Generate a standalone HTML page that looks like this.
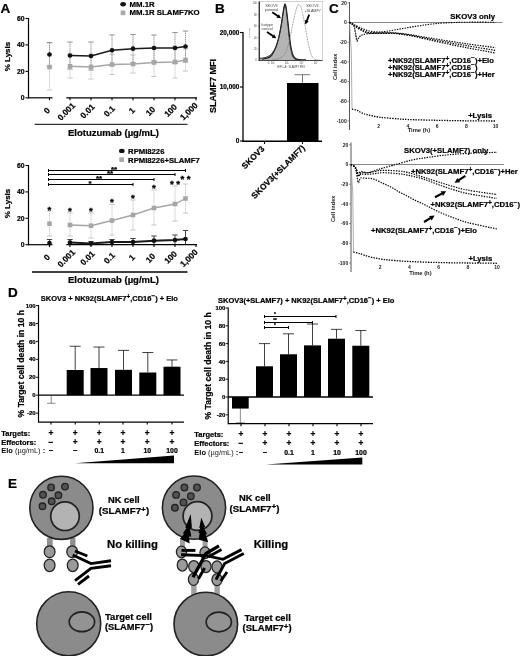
<!DOCTYPE html>
<html><head><meta charset="utf-8"><title>Figure</title>
<style>
html,body{margin:0;padding:0;background:#fff;}
svg{display:block;font-family:"Liberation Sans",sans-serif;}
</style></head>
<body>
<svg width="520" height="656" viewBox="0 0 520 656">
<rect x="0" y="0" width="520" height="656" fill="#fff"/>
<text x="0.5" y="13.3" font-size="13.5" font-weight="bold" text-anchor="start" fill="#000" stroke="#000" stroke-width="0.22">A</text>
<line x1="49.5" y1="43" x2="49.5" y2="90" stroke="#c8c8c8" stroke-width="0.9" stroke-dasharray="1.5,0.5"/>
<line x1="46.8" y1="43" x2="52.2" y2="43" stroke="#c8c8c8" stroke-width="1.0"/>
<line x1="46.8" y1="90" x2="52.2" y2="90" stroke="#c8c8c8" stroke-width="1.0"/>
<line x1="70" y1="54" x2="70" y2="78" stroke="#c8c8c8" stroke-width="0.9" stroke-dasharray="1.5,0.5"/>
<line x1="67.3" y1="54" x2="72.7" y2="54" stroke="#c8c8c8" stroke-width="1.0"/>
<line x1="67.3" y1="78" x2="72.7" y2="78" stroke="#c8c8c8" stroke-width="1.0"/>
<line x1="91" y1="54" x2="91" y2="79" stroke="#c8c8c8" stroke-width="0.9" stroke-dasharray="1.5,0.5"/>
<line x1="88.3" y1="54" x2="93.7" y2="54" stroke="#c8c8c8" stroke-width="1.0"/>
<line x1="88.3" y1="79" x2="93.7" y2="79" stroke="#c8c8c8" stroke-width="1.0"/>
<line x1="112" y1="54.5" x2="112" y2="74.5" stroke="#c8c8c8" stroke-width="0.9" stroke-dasharray="1.5,0.5"/>
<line x1="109.3" y1="54.5" x2="114.7" y2="54.5" stroke="#c8c8c8" stroke-width="1.0"/>
<line x1="109.3" y1="74.5" x2="114.7" y2="74.5" stroke="#c8c8c8" stroke-width="1.0"/>
<line x1="133" y1="55" x2="133" y2="73" stroke="#c8c8c8" stroke-width="0.9" stroke-dasharray="1.5,0.5"/>
<line x1="130.3" y1="55" x2="135.7" y2="55" stroke="#c8c8c8" stroke-width="1.0"/>
<line x1="130.3" y1="73" x2="135.7" y2="73" stroke="#c8c8c8" stroke-width="1.0"/>
<line x1="154" y1="48.5" x2="154" y2="76.5" stroke="#c8c8c8" stroke-width="0.9" stroke-dasharray="1.5,0.5"/>
<line x1="151.3" y1="48.5" x2="156.7" y2="48.5" stroke="#c8c8c8" stroke-width="1.0"/>
<line x1="151.3" y1="76.5" x2="156.7" y2="76.5" stroke="#c8c8c8" stroke-width="1.0"/>
<line x1="175" y1="46" x2="175" y2="78" stroke="#c8c8c8" stroke-width="0.9" stroke-dasharray="1.5,0.5"/>
<line x1="172.3" y1="46" x2="177.7" y2="46" stroke="#c8c8c8" stroke-width="1.0"/>
<line x1="172.3" y1="78" x2="177.7" y2="78" stroke="#c8c8c8" stroke-width="1.0"/>
<line x1="185.5" y1="49" x2="185.5" y2="71" stroke="#c8c8c8" stroke-width="0.9" stroke-dasharray="1.5,0.5"/>
<line x1="182.8" y1="49" x2="188.2" y2="49" stroke="#c8c8c8" stroke-width="1.0"/>
<line x1="182.8" y1="71" x2="188.2" y2="71" stroke="#c8c8c8" stroke-width="1.0"/>
<line x1="49.5" y1="42.5" x2="49.5" y2="66.5" stroke="#949494" stroke-width="0.9" stroke-dasharray="1.5,0.5"/>
<line x1="46.8" y1="42.5" x2="52.2" y2="42.5" stroke="#949494" stroke-width="1.0"/>
<line x1="46.8" y1="66.5" x2="52.2" y2="66.5" stroke="#949494" stroke-width="1.0"/>
<line x1="70" y1="42" x2="70" y2="69.0" stroke="#949494" stroke-width="0.9" stroke-dasharray="1.5,0.5"/>
<line x1="67.3" y1="42" x2="72.7" y2="42" stroke="#949494" stroke-width="1.0"/>
<line x1="67.3" y1="69.0" x2="72.7" y2="69.0" stroke="#949494" stroke-width="1.0"/>
<line x1="91" y1="42" x2="91" y2="70" stroke="#949494" stroke-width="0.9" stroke-dasharray="1.5,0.5"/>
<line x1="88.3" y1="42" x2="93.7" y2="42" stroke="#949494" stroke-width="1.0"/>
<line x1="88.3" y1="70" x2="93.7" y2="70" stroke="#949494" stroke-width="1.0"/>
<line x1="112" y1="35" x2="112" y2="65.6" stroke="#949494" stroke-width="0.9" stroke-dasharray="1.5,0.5"/>
<line x1="109.3" y1="35" x2="114.7" y2="35" stroke="#949494" stroke-width="1.0"/>
<line x1="109.3" y1="65.6" x2="114.7" y2="65.6" stroke="#949494" stroke-width="1.0"/>
<line x1="133" y1="34.5" x2="133" y2="62.900000000000006" stroke="#949494" stroke-width="0.9" stroke-dasharray="1.5,0.5"/>
<line x1="130.3" y1="34.5" x2="135.7" y2="34.5" stroke="#949494" stroke-width="1.0"/>
<line x1="130.3" y1="62.900000000000006" x2="135.7" y2="62.900000000000006" stroke="#949494" stroke-width="1.0"/>
<line x1="154" y1="35" x2="154" y2="61" stroke="#949494" stroke-width="0.9" stroke-dasharray="1.5,0.5"/>
<line x1="151.3" y1="35" x2="156.7" y2="35" stroke="#949494" stroke-width="1.0"/>
<line x1="151.3" y1="61" x2="156.7" y2="61" stroke="#949494" stroke-width="1.0"/>
<line x1="175" y1="32.5" x2="175" y2="63.5" stroke="#949494" stroke-width="0.9" stroke-dasharray="1.5,0.5"/>
<line x1="172.3" y1="32.5" x2="177.7" y2="32.5" stroke="#949494" stroke-width="1.0"/>
<line x1="172.3" y1="63.5" x2="177.7" y2="63.5" stroke="#949494" stroke-width="1.0"/>
<line x1="185.5" y1="31" x2="185.5" y2="62.0" stroke="#949494" stroke-width="0.9" stroke-dasharray="1.5,0.5"/>
<line x1="182.8" y1="31" x2="188.2" y2="31" stroke="#949494" stroke-width="1.0"/>
<line x1="182.8" y1="62.0" x2="188.2" y2="62.0" stroke="#949494" stroke-width="1.0"/>
<line x1="28.5" y1="18.0" x2="28.5" y2="98.39999999999999" stroke="#000" stroke-width="1.2"/>
<line x1="28" y1="97.8" x2="52.5" y2="97.8" stroke="#000" stroke-width="1.2"/>
<line x1="66.3" y1="97.8" x2="197" y2="97.8" stroke="#000" stroke-width="1.2"/>
<line x1="25.5" y1="97.8" x2="28.5" y2="97.8" stroke="#000" stroke-width="1.1"/>
<text x="24.5" y="100.2" font-size="6.8" font-weight="bold" text-anchor="end" fill="#000" stroke="#000" stroke-width="0.22">0</text>
<line x1="25.5" y1="71.36666666666666" x2="28.5" y2="71.36666666666666" stroke="#000" stroke-width="1.1"/>
<text x="24.5" y="73.76666666666667" font-size="6.8" font-weight="bold" text-anchor="end" fill="#000" stroke="#000" stroke-width="0.22">20</text>
<line x1="25.5" y1="44.93333333333333" x2="28.5" y2="44.93333333333333" stroke="#000" stroke-width="1.1"/>
<text x="24.5" y="47.33333333333333" font-size="6.8" font-weight="bold" text-anchor="end" fill="#000" stroke="#000" stroke-width="0.22">40</text>
<line x1="25.5" y1="18.5" x2="28.5" y2="18.5" stroke="#000" stroke-width="1.1"/>
<text x="24.5" y="20.9" font-size="6.8" font-weight="bold" text-anchor="end" fill="#000" stroke="#000" stroke-width="0.22">60</text>
<line x1="49.5" y1="97.8" x2="49.5" y2="100.2" stroke="#000" stroke-width="1.1"/>
<line x1="70" y1="97.8" x2="70" y2="100.2" stroke="#000" stroke-width="1.1"/>
<line x1="91" y1="97.8" x2="91" y2="100.2" stroke="#000" stroke-width="1.1"/>
<line x1="112" y1="97.8" x2="112" y2="100.2" stroke="#000" stroke-width="1.1"/>
<line x1="133" y1="97.8" x2="133" y2="100.2" stroke="#000" stroke-width="1.1"/>
<line x1="154" y1="97.8" x2="154" y2="100.2" stroke="#000" stroke-width="1.1"/>
<line x1="175" y1="97.8" x2="175" y2="100.2" stroke="#000" stroke-width="1.1"/>
<line x1="196" y1="97.8" x2="196" y2="100.2" stroke="#000" stroke-width="1.1"/>
<text x="9.7" y="56.55" font-size="8.0" font-weight="bold" text-anchor="middle" fill="#000" transform="rotate(-90 9.7 56.55)" stroke="#000" stroke-width="0.22">% Lysis</text>
<path d="M70.0,66.2 L91.0,67.0 L112.0,64.5 L133.0,64.0 L154.0,62.5 L175.0,62.0 L185.5,60.0" stroke="#a6a6a6" stroke-width="1.4" fill="none"/>
<path d="M70.0,55.5 L91.0,56.0 L112.0,50.3 L133.0,48.7 L154.0,48.0 L175.0,48.0 L185.5,46.5" stroke="#1a1a1a" stroke-width="1.6" fill="none"/>
<rect x="47.2" y="64.7" width="4.6" height="4.6" fill="#a6a6a6" stroke="none" stroke-width="1"/>
<rect x="67.7" y="63.900000000000006" width="4.6" height="4.6" fill="#a6a6a6" stroke="none" stroke-width="1"/>
<rect x="88.7" y="64.7" width="4.6" height="4.6" fill="#a6a6a6" stroke="none" stroke-width="1"/>
<rect x="109.7" y="62.2" width="4.6" height="4.6" fill="#a6a6a6" stroke="none" stroke-width="1"/>
<rect x="130.7" y="61.7" width="4.6" height="4.6" fill="#a6a6a6" stroke="none" stroke-width="1"/>
<rect x="151.7" y="60.2" width="4.6" height="4.6" fill="#a6a6a6" stroke="none" stroke-width="1"/>
<rect x="172.7" y="59.7" width="4.6" height="4.6" fill="#a6a6a6" stroke="none" stroke-width="1"/>
<rect x="183.2" y="57.7" width="4.6" height="4.6" fill="#a6a6a6" stroke="none" stroke-width="1"/>
<circle cx="49.5" cy="54.5" r="2.35" fill="#111" stroke="none" stroke-width="1"/>
<circle cx="70" cy="55.5" r="2.35" fill="#111" stroke="none" stroke-width="1"/>
<circle cx="91" cy="56" r="2.35" fill="#111" stroke="none" stroke-width="1"/>
<circle cx="112" cy="50.3" r="2.35" fill="#111" stroke="none" stroke-width="1"/>
<circle cx="133" cy="48.7" r="2.35" fill="#111" stroke="none" stroke-width="1"/>
<circle cx="154" cy="48" r="2.35" fill="#111" stroke="none" stroke-width="1"/>
<circle cx="175" cy="48" r="2.35" fill="#111" stroke="none" stroke-width="1"/>
<circle cx="185.5" cy="46.5" r="2.35" fill="#111" stroke="none" stroke-width="1"/>
<text x="49.0" y="112.5" font-size="8.4" font-weight="bold" text-anchor="middle" fill="#000" transform="rotate(-45 49.0 112.5)" stroke="#000" stroke-width="0.22">0</text>
<text x="68.3" y="113.5" font-size="8.4" font-weight="bold" text-anchor="middle" fill="#000" transform="rotate(-45 68.3 113.5)" stroke="#000" stroke-width="0.22">0.001</text>
<text x="89.6" y="113.2" font-size="8.4" font-weight="bold" text-anchor="middle" fill="#000" transform="rotate(-45 89.6 113.2)" stroke="#000" stroke-width="0.22">0.01</text>
<text x="111.4" y="113.2" font-size="8.4" font-weight="bold" text-anchor="middle" fill="#000" transform="rotate(-45 111.4 113.2)" stroke="#000" stroke-width="0.22">0.1</text>
<text x="133.9" y="112.7" font-size="8.4" font-weight="bold" text-anchor="middle" fill="#000" transform="rotate(-45 133.9 112.7)" stroke="#000" stroke-width="0.22">1</text>
<text x="152.5" y="113.2" font-size="8.4" font-weight="bold" text-anchor="middle" fill="#000" transform="rotate(-45 152.5 113.2)" stroke="#000" stroke-width="0.22">10</text>
<text x="172.7" y="112.5" font-size="8.4" font-weight="bold" text-anchor="middle" fill="#000" transform="rotate(-45 172.7 112.5)" stroke="#000" stroke-width="0.22">100</text>
<text x="190.9" y="113.3" font-size="8.4" font-weight="bold" text-anchor="middle" fill="#000" transform="rotate(-45 190.9 113.3)" stroke="#000" stroke-width="0.22">1,000</text>
<line x1="34.6" y1="124.3" x2="187.5" y2="124.3" stroke="#000" stroke-width="1.0"/>
<text x="113.5" y="135.5" font-size="9.5" font-weight="bold" text-anchor="middle" fill="#000" stroke="#000" stroke-width="0.22">Elotuzumab (µg/mL)</text>
<ellipse cx="123.1" cy="4.2" rx="2.8" ry="2.2" fill="#111" stroke="none" stroke-width="1"/>
<rect x="120.7" y="10.5" width="4.7" height="4.7" fill="#ababab" stroke="none" stroke-width="1"/>
<text x="129.5" y="6.7" font-size="7.8" font-weight="bold" text-anchor="start" fill="#000" stroke="#000" stroke-width="0.22">MM.1R</text>
<text x="129.5" y="15.2" font-size="7.8" font-weight="bold" text-anchor="start" fill="#000" stroke="#000" stroke-width="0.22">MM.1R SLAMF7KO</text>
<line x1="49.5" y1="211" x2="49.5" y2="236" stroke="#c8c8c8" stroke-width="0.9" stroke-dasharray="1.5,0.5"/>
<line x1="46.8" y1="211" x2="52.2" y2="211" stroke="#c8c8c8" stroke-width="1.0"/>
<line x1="46.8" y1="236" x2="52.2" y2="236" stroke="#c8c8c8" stroke-width="1.0"/>
<line x1="70" y1="213" x2="70" y2="236" stroke="#c8c8c8" stroke-width="0.9" stroke-dasharray="1.5,0.5"/>
<line x1="67.3" y1="213" x2="72.7" y2="213" stroke="#c8c8c8" stroke-width="1.0"/>
<line x1="67.3" y1="236" x2="72.7" y2="236" stroke="#c8c8c8" stroke-width="1.0"/>
<line x1="91" y1="213" x2="91" y2="238" stroke="#c8c8c8" stroke-width="0.9" stroke-dasharray="1.5,0.5"/>
<line x1="88.3" y1="213" x2="93.7" y2="213" stroke="#c8c8c8" stroke-width="1.0"/>
<line x1="88.3" y1="238" x2="93.7" y2="238" stroke="#c8c8c8" stroke-width="1.0"/>
<line x1="112" y1="204.5" x2="112" y2="235" stroke="#c8c8c8" stroke-width="0.9" stroke-dasharray="1.5,0.5"/>
<line x1="109.3" y1="204.5" x2="114.7" y2="204.5" stroke="#c8c8c8" stroke-width="1.0"/>
<line x1="109.3" y1="235" x2="114.7" y2="235" stroke="#c8c8c8" stroke-width="1.0"/>
<line x1="133" y1="200" x2="133" y2="230" stroke="#c8c8c8" stroke-width="0.9" stroke-dasharray="1.5,0.5"/>
<line x1="130.3" y1="200" x2="135.7" y2="200" stroke="#c8c8c8" stroke-width="1.0"/>
<line x1="130.3" y1="230" x2="135.7" y2="230" stroke="#c8c8c8" stroke-width="1.0"/>
<line x1="154" y1="190" x2="154" y2="225" stroke="#c8c8c8" stroke-width="0.9" stroke-dasharray="1.5,0.5"/>
<line x1="151.3" y1="190" x2="156.7" y2="190" stroke="#c8c8c8" stroke-width="1.0"/>
<line x1="151.3" y1="225" x2="156.7" y2="225" stroke="#c8c8c8" stroke-width="1.0"/>
<line x1="175" y1="186" x2="175" y2="221" stroke="#c8c8c8" stroke-width="0.9" stroke-dasharray="1.5,0.5"/>
<line x1="172.3" y1="186" x2="177.7" y2="186" stroke="#c8c8c8" stroke-width="1.0"/>
<line x1="172.3" y1="221" x2="177.7" y2="221" stroke="#c8c8c8" stroke-width="1.0"/>
<line x1="185.5" y1="184" x2="185.5" y2="213" stroke="#c8c8c8" stroke-width="0.9" stroke-dasharray="1.5,0.5"/>
<line x1="182.8" y1="184" x2="188.2" y2="184" stroke="#c8c8c8" stroke-width="1.0"/>
<line x1="182.8" y1="213" x2="188.2" y2="213" stroke="#c8c8c8" stroke-width="1.0"/>
<line x1="49.5" y1="239.5" x2="49.5" y2="244.7" stroke="#333" stroke-width="0.9"/>
<line x1="46.8" y1="239.5" x2="52.2" y2="239.5" stroke="#333" stroke-width="0.9"/>
<line x1="70" y1="239.5" x2="70" y2="244.7" stroke="#333" stroke-width="0.9"/>
<line x1="67.3" y1="239.5" x2="72.7" y2="239.5" stroke="#333" stroke-width="0.9"/>
<line x1="91" y1="241.5" x2="91" y2="244.7" stroke="#333" stroke-width="0.9"/>
<line x1="88.3" y1="241.5" x2="93.7" y2="241.5" stroke="#333" stroke-width="0.9"/>
<line x1="112" y1="239.5" x2="112" y2="244.5" stroke="#333" stroke-width="0.9"/>
<line x1="109.3" y1="239.5" x2="114.7" y2="239.5" stroke="#333" stroke-width="0.9"/>
<line x1="109.3" y1="244.5" x2="114.7" y2="244.5" stroke="#333" stroke-width="0.9"/>
<line x1="133" y1="238.5" x2="133" y2="244.7" stroke="#333" stroke-width="0.9"/>
<line x1="130.3" y1="238.5" x2="135.7" y2="238.5" stroke="#333" stroke-width="0.9"/>
<line x1="154" y1="236" x2="154" y2="244.7" stroke="#333" stroke-width="0.9"/>
<line x1="151.3" y1="236" x2="156.7" y2="236" stroke="#333" stroke-width="0.9"/>
<line x1="175" y1="235" x2="175" y2="244.7" stroke="#333" stroke-width="0.9"/>
<line x1="172.3" y1="235" x2="177.7" y2="235" stroke="#333" stroke-width="0.9"/>
<line x1="185.5" y1="230.5" x2="185.5" y2="244.7" stroke="#333" stroke-width="0.9"/>
<line x1="182.8" y1="230.5" x2="188.2" y2="230.5" stroke="#333" stroke-width="0.9"/>
<line x1="28.5" y1="165.0" x2="28.5" y2="245.29999999999998" stroke="#000" stroke-width="1.2"/>
<line x1="28" y1="244.7" x2="52.5" y2="244.7" stroke="#000" stroke-width="1.2"/>
<line x1="66.3" y1="244.7" x2="197" y2="244.7" stroke="#000" stroke-width="1.2"/>
<line x1="25.5" y1="244.7" x2="28.5" y2="244.7" stroke="#000" stroke-width="1.1"/>
<text x="24.5" y="247.1" font-size="6.8" font-weight="bold" text-anchor="end" fill="#000" stroke="#000" stroke-width="0.22">0</text>
<line x1="25.5" y1="218.29999999999998" x2="28.5" y2="218.29999999999998" stroke="#000" stroke-width="1.1"/>
<text x="24.5" y="220.7" font-size="6.8" font-weight="bold" text-anchor="end" fill="#000" stroke="#000" stroke-width="0.22">20</text>
<line x1="25.5" y1="191.9" x2="28.5" y2="191.9" stroke="#000" stroke-width="1.1"/>
<text x="24.5" y="194.3" font-size="6.8" font-weight="bold" text-anchor="end" fill="#000" stroke="#000" stroke-width="0.22">40</text>
<line x1="25.5" y1="165.5" x2="28.5" y2="165.5" stroke="#000" stroke-width="1.1"/>
<text x="24.5" y="167.9" font-size="6.8" font-weight="bold" text-anchor="end" fill="#000" stroke="#000" stroke-width="0.22">60</text>
<line x1="49.5" y1="244.7" x2="49.5" y2="247.1" stroke="#000" stroke-width="1.1"/>
<line x1="70" y1="244.7" x2="70" y2="247.1" stroke="#000" stroke-width="1.1"/>
<line x1="91" y1="244.7" x2="91" y2="247.1" stroke="#000" stroke-width="1.1"/>
<line x1="112" y1="244.7" x2="112" y2="247.1" stroke="#000" stroke-width="1.1"/>
<line x1="133" y1="244.7" x2="133" y2="247.1" stroke="#000" stroke-width="1.1"/>
<line x1="154" y1="244.7" x2="154" y2="247.1" stroke="#000" stroke-width="1.1"/>
<line x1="175" y1="244.7" x2="175" y2="247.1" stroke="#000" stroke-width="1.1"/>
<line x1="196" y1="244.7" x2="196" y2="247.1" stroke="#000" stroke-width="1.1"/>
<text x="9.7" y="203.5" font-size="8.0" font-weight="bold" text-anchor="middle" fill="#000" transform="rotate(-90 9.7 203.5)" stroke="#000" stroke-width="0.22">% Lysis</text>
<path d="M70.0,225.0 L91.0,225.7 L112.0,220.5 L133.0,215.0 L154.0,208.0 L175.0,204.0 L185.5,198.5" stroke="#a6a6a6" stroke-width="1.4" fill="none"/>
<path d="M70.0,242.5 L91.0,243.5 L112.0,242.0 L133.0,242.0 L154.0,240.7 L175.0,240.0 L185.5,239.0" stroke="#1a1a1a" stroke-width="1.9" fill="none"/>
<rect x="47.2" y="221.39999999999998" width="4.6" height="4.6" fill="#a6a6a6" stroke="none" stroke-width="1"/>
<rect x="67.7" y="222.7" width="4.6" height="4.6" fill="#a6a6a6" stroke="none" stroke-width="1"/>
<rect x="88.7" y="223.39999999999998" width="4.6" height="4.6" fill="#a6a6a6" stroke="none" stroke-width="1"/>
<rect x="109.7" y="218.2" width="4.6" height="4.6" fill="#a6a6a6" stroke="none" stroke-width="1"/>
<rect x="130.7" y="212.7" width="4.6" height="4.6" fill="#a6a6a6" stroke="none" stroke-width="1"/>
<rect x="151.7" y="205.7" width="4.6" height="4.6" fill="#a6a6a6" stroke="none" stroke-width="1"/>
<rect x="172.7" y="201.7" width="4.6" height="4.6" fill="#a6a6a6" stroke="none" stroke-width="1"/>
<rect x="183.2" y="196.2" width="4.6" height="4.6" fill="#a6a6a6" stroke="none" stroke-width="1"/>
<circle cx="49.5" cy="243" r="2.35" fill="#111" stroke="none" stroke-width="1"/>
<circle cx="70" cy="242.5" r="2.35" fill="#111" stroke="none" stroke-width="1"/>
<circle cx="91" cy="243.5" r="2.35" fill="#111" stroke="none" stroke-width="1"/>
<circle cx="112" cy="242" r="2.35" fill="#111" stroke="none" stroke-width="1"/>
<circle cx="133" cy="242" r="2.35" fill="#111" stroke="none" stroke-width="1"/>
<circle cx="154" cy="240.7" r="2.35" fill="#111" stroke="none" stroke-width="1"/>
<circle cx="175" cy="240" r="2.35" fill="#111" stroke="none" stroke-width="1"/>
<circle cx="185.5" cy="239" r="2.35" fill="#111" stroke="none" stroke-width="1"/>
<text x="49.0" y="259.4" font-size="8.4" font-weight="bold" text-anchor="middle" fill="#000" transform="rotate(-45 49.0 259.4)" stroke="#000" stroke-width="0.22">0</text>
<text x="68.3" y="260.4" font-size="8.4" font-weight="bold" text-anchor="middle" fill="#000" transform="rotate(-45 68.3 260.4)" stroke="#000" stroke-width="0.22">0.001</text>
<text x="89.6" y="260.1" font-size="8.4" font-weight="bold" text-anchor="middle" fill="#000" transform="rotate(-45 89.6 260.1)" stroke="#000" stroke-width="0.22">0.01</text>
<text x="111.4" y="260.1" font-size="8.4" font-weight="bold" text-anchor="middle" fill="#000" transform="rotate(-45 111.4 260.1)" stroke="#000" stroke-width="0.22">0.1</text>
<text x="133.9" y="259.6" font-size="8.4" font-weight="bold" text-anchor="middle" fill="#000" transform="rotate(-45 133.9 259.6)" stroke="#000" stroke-width="0.22">1</text>
<text x="152.5" y="260.1" font-size="8.4" font-weight="bold" text-anchor="middle" fill="#000" transform="rotate(-45 152.5 260.1)" stroke="#000" stroke-width="0.22">10</text>
<text x="172.7" y="259.4" font-size="8.4" font-weight="bold" text-anchor="middle" fill="#000" transform="rotate(-45 172.7 259.4)" stroke="#000" stroke-width="0.22">100</text>
<text x="190.9" y="260.2" font-size="8.4" font-weight="bold" text-anchor="middle" fill="#000" transform="rotate(-45 190.9 260.2)" stroke="#000" stroke-width="0.22">1,000</text>
<line x1="32" y1="272.0" x2="187.5" y2="272.0" stroke="#000" stroke-width="1.3"/>
<text x="113.5" y="283" font-size="9.5" font-weight="bold" text-anchor="middle" fill="#000" stroke="#000" stroke-width="0.22">Elotuzumab (µg/mL)</text>
<ellipse cx="121.8" cy="150.9" rx="2.8" ry="2.2" fill="#111" stroke="none" stroke-width="1"/>
<rect x="119.3" y="157.3" width="4.7" height="4.7" fill="#ababab" stroke="none" stroke-width="1"/>
<text x="128.1" y="154.2" font-size="7.7" font-weight="bold" text-anchor="start" fill="#000" stroke="#000" stroke-width="0.22">RPMI8226</text>
<text x="128.1" y="162.7" font-size="7.7" font-weight="bold" text-anchor="start" fill="#000" stroke="#000" stroke-width="0.22">RPMI8226+SLAMF7</text>
<text x="49.5" y="212.5" font-size="9.7" font-weight="bold" text-anchor="middle" fill="#000" stroke="#000" stroke-width="0.3">*</text>
<text x="70" y="213.5" font-size="9.7" font-weight="bold" text-anchor="middle" fill="#000" stroke="#000" stroke-width="0.3">*</text>
<text x="91" y="213.5" font-size="9.7" font-weight="bold" text-anchor="middle" fill="#000" stroke="#000" stroke-width="0.3">*</text>
<text x="112" y="205.0" font-size="9.7" font-weight="bold" text-anchor="middle" fill="#000" stroke="#000" stroke-width="0.3">*</text>
<text x="133" y="200.5" font-size="9.7" font-weight="bold" text-anchor="middle" fill="#000" stroke="#000" stroke-width="0.3">*</text>
<text x="154" y="190.5" font-size="9.7" font-weight="bold" text-anchor="middle" fill="#000" stroke="#000" stroke-width="0.3">*</text>
<text x="175" y="187.1" font-size="9.7" font-weight="bold" text-anchor="middle" fill="#000" stroke="#000" stroke-width="0.3">* *</text>
<text x="185.5" y="182.1" font-size="9.7" font-weight="bold" text-anchor="middle" fill="#000" stroke="#000" stroke-width="0.3">* *</text>
<line x1="48.5" y1="170.5" x2="185.5" y2="170.5" stroke="#000" stroke-width="1.0"/>
<line x1="48.5" y1="169.0" x2="48.5" y2="172.0" stroke="#000" stroke-width="1.0"/>
<line x1="185.5" y1="169.0" x2="185.5" y2="172.0" stroke="#000" stroke-width="1.0"/>
<text x="114" y="172.1" font-size="8" font-weight="bold" text-anchor="middle" fill="#000" stroke="#000" stroke-width="0.22">**</text>
<line x1="48.5" y1="174.5" x2="175" y2="174.5" stroke="#000" stroke-width="1.0"/>
<line x1="48.5" y1="173.0" x2="48.5" y2="176.0" stroke="#000" stroke-width="1.0"/>
<line x1="175" y1="173.0" x2="175" y2="176.0" stroke="#000" stroke-width="1.0"/>
<text x="110" y="176.1" font-size="8" font-weight="bold" text-anchor="middle" fill="#000" stroke="#000" stroke-width="0.22">**</text>
<line x1="48.5" y1="179.5" x2="154" y2="179.5" stroke="#000" stroke-width="1.0"/>
<line x1="48.5" y1="178.0" x2="48.5" y2="181.0" stroke="#000" stroke-width="1.0"/>
<line x1="154" y1="178.0" x2="154" y2="181.0" stroke="#000" stroke-width="1.0"/>
<text x="99" y="181.1" font-size="8" font-weight="bold" text-anchor="middle" fill="#000" stroke="#000" stroke-width="0.22">**</text>
<line x1="48.5" y1="184.5" x2="133" y2="184.5" stroke="#000" stroke-width="1.0"/>
<line x1="48.5" y1="183.0" x2="48.5" y2="186.0" stroke="#000" stroke-width="1.0"/>
<line x1="133" y1="183.0" x2="133" y2="186.0" stroke="#000" stroke-width="1.0"/>
<text x="90" y="186.1" font-size="8" font-weight="bold" text-anchor="middle" fill="#000" stroke="#000" stroke-width="0.22">*</text>
<text x="215" y="12.8" font-size="13.5" font-weight="bold" text-anchor="start" fill="#000" stroke="#000" stroke-width="0.22">B</text>
<line x1="243" y1="32" x2="243" y2="141.9" stroke="#000" stroke-width="1.3"/>
<line x1="242.4" y1="141.2" x2="322" y2="141.2" stroke="#000" stroke-width="1.4"/>
<line x1="240" y1="32.5" x2="243" y2="32.5" stroke="#000" stroke-width="1.1"/>
<text x="239.3" y="34.8" font-size="6.4" font-weight="bold" text-anchor="end" fill="#000" stroke="#000" stroke-width="0.22">20,000</text>
<line x1="240" y1="87" x2="243" y2="87" stroke="#000" stroke-width="1.1"/>
<text x="239.3" y="89.3" font-size="6.4" font-weight="bold" text-anchor="end" fill="#000" stroke="#000" stroke-width="0.22">10,000</text>
<line x1="240" y1="141" x2="243" y2="141" stroke="#000" stroke-width="1.1"/>
<text x="239.3" y="143.3" font-size="6.4" font-weight="bold" text-anchor="end" fill="#000" stroke="#000" stroke-width="0.22">0</text>
<text x="215.5" y="86" font-size="9" font-weight="bold" text-anchor="middle" fill="#000" transform="rotate(-90 215.5 86)" stroke="#000" stroke-width="0.22">SLAMF7 MFI</text>
<rect x="287" y="83" width="31.5" height="58" fill="#000" stroke="none" stroke-width="1"/>
<line x1="302.5" y1="74.7" x2="302.5" y2="83" stroke="#666" stroke-width="0.9"/>
<line x1="294.6" y1="74.7" x2="310.2" y2="74.7" stroke="#666" stroke-width="0.9"/>
<line x1="264.5" y1="141" x2="264.5" y2="144" stroke="#000" stroke-width="1.1"/>
<line x1="302.5" y1="141" x2="302.5" y2="144" stroke="#000" stroke-width="1.1"/>
<text x="265" y="149.5" font-size="8.3" font-weight="bold" text-anchor="end" fill="#000" transform="rotate(-45 265 149.5)" stroke="#000" stroke-width="0.22">SKOV3</text>
<text x="305.5" y="148.5" font-size="8.3" font-weight="bold" text-anchor="end" fill="#000" transform="rotate(-45 305.5 148.5)" stroke="#000" stroke-width="0.22">SKOV3(+SLAMF7)</text>
<rect x="259" y="1.5" width="63.5" height="59" fill="none" stroke="#c8c8c8" stroke-width="0.8"/>
<path d="M259.5,60.2 C259.5,59.9 258.9,58.7 259.5,58.3 C260.1,57.9 261.8,58.2 263.0,58.0 C264.2,57.8 265.8,57.5 267.0,57.0 C268.2,56.5 269.0,56.1 270.0,55.3 C271.0,54.5 272.0,53.5 273.0,52.0 C274.0,50.5 275.0,49.0 276.0,46.5 C277.0,44.0 278.2,40.2 279.0,37.0 C279.8,33.8 280.3,30.8 281.0,27.0 C281.7,23.2 282.5,17.8 283.0,14.5 C283.5,11.2 283.9,8.8 284.2,7.0 C284.5,5.2 284.7,4.0 285.0,3.9 C285.3,3.8 285.5,4.7 285.8,6.5 C286.1,8.3 286.5,12.2 286.8,15.0 C287.1,17.8 287.3,19.5 287.7,23.0 C288.1,26.5 288.6,32.2 289.0,36.0 C289.4,39.8 289.8,43.2 290.2,46.0 C290.6,48.8 291.0,50.7 291.5,52.5 C292.0,54.3 292.4,55.9 293.0,57.0 C293.6,58.1 294.2,58.5 295.0,59.0 C295.8,59.5 296.7,59.8 297.7,60.0 C298.7,60.2 300.4,60.2 301.0,60.2 C301.6,60.2 301.0,60.2 301.0,60.2" stroke="none" stroke-width="0" fill="#b4b4b4"/>
<path d="M259.5,58.3 C260.1,58.2 261.8,58.2 263.0,58.0 C264.2,57.8 265.8,57.5 267.0,57.0 C268.2,56.5 269.0,56.1 270.0,55.3 C271.0,54.5 272.0,53.5 273.0,52.0 C274.0,50.5 275.0,49.0 276.0,46.5 C277.0,44.0 278.2,40.2 279.0,37.0 C279.8,33.8 280.3,30.8 281.0,27.0 C281.7,23.2 282.5,17.8 283.0,14.5 C283.5,11.2 283.9,8.8 284.2,7.0 C284.5,5.2 284.7,4.0 285.0,3.9 C285.3,3.8 285.5,4.7 285.8,6.5 C286.1,8.3 286.5,12.2 286.8,15.0 C287.1,17.8 287.3,19.5 287.7,23.0 C288.1,26.5 288.6,32.2 289.0,36.0 C289.4,39.8 289.8,43.2 290.2,46.0 C290.6,48.8 291.0,50.7 291.5,52.5 C292.0,54.3 292.4,55.9 293.0,57.0 C293.6,58.1 294.2,58.5 295.0,59.0 C295.8,59.5 296.7,59.8 297.7,60.0 C298.7,60.2 300.4,60.2 301.0,60.2" stroke="#333" stroke-width="1.0" fill="none"/>
<path d="M262.0,59.3 C262.8,59.1 265.5,58.8 267.0,58.3 C268.5,57.8 269.8,57.1 271.0,56.0 C272.2,54.9 273.0,53.5 274.0,51.5 C275.0,49.5 276.1,46.9 277.0,44.0 C277.9,41.1 278.8,37.5 279.5,34.0 C280.2,30.5 280.9,26.8 281.5,23.0 C282.1,19.2 282.8,14.0 283.3,11.0 C283.8,8.0 284.2,6.3 284.5,5.2 C284.8,4.1 284.9,3.7 285.2,4.2 C285.5,4.7 285.8,5.9 286.2,8.0 C286.6,10.1 287.0,13.7 287.4,17.0 C287.8,20.3 288.2,24.2 288.6,28.0 C289.0,31.8 289.6,36.6 290.0,40.0 C290.4,43.4 290.8,46.0 291.3,48.5 C291.8,51.0 292.3,53.3 293.0,55.0 C293.7,56.7 294.5,57.7 295.5,58.5 C296.5,59.3 297.2,59.4 299.0,59.6 C300.8,59.8 304.8,59.8 306.0,59.8" stroke="#222" stroke-width="1.1" fill="none"/>
<path d="M272.0,59.8 C272.8,59.7 275.3,59.7 277.0,59.2 C278.7,58.7 280.7,58.0 282.0,57.0 C283.3,56.0 284.2,54.8 285.0,53.5 C285.8,52.2 286.3,51.1 287.0,49.0 C287.7,46.9 288.6,44.0 289.3,41.0 C290.1,38.0 290.8,34.2 291.5,30.8 C292.2,27.4 292.9,23.6 293.5,20.5 C294.1,17.4 294.8,14.7 295.4,12.3 C296.0,9.9 296.7,7.6 297.3,6.3 C297.9,5.0 298.4,4.5 299.0,4.6 C299.6,4.7 300.2,5.5 300.8,6.8 C301.4,8.1 301.8,10.2 302.3,12.3 C302.8,14.4 303.3,16.9 303.8,19.5 C304.3,22.1 304.9,24.9 305.4,27.7 C305.9,30.5 306.5,33.7 307.0,36.5 C307.5,39.3 308.0,42.2 308.5,44.6 C309.0,47.0 309.5,49.0 310.0,50.8 C310.5,52.6 310.9,54.1 311.5,55.4 C312.1,56.6 312.8,57.6 313.5,58.3 C314.2,59.0 314.9,59.4 316.0,59.7 C317.1,60.0 319.3,60.0 320.0,60.0" stroke="#777" stroke-width="0.8" fill="none" stroke-dasharray="0.9,0.7"/>
<line x1="259.3" y1="1.5" x2="259.3" y2="60.8" stroke="#222" stroke-width="1.2"/>
<line x1="258.8" y1="60.5" x2="322.5" y2="60.5" stroke="#444" stroke-width="1.0"/>
<text x="256.8" y="4.1000000000000005" font-size="2.6" font-weight="normal" text-anchor="end" fill="#444">100</text>
<line x1="257.8" y1="3.2" x2="259" y2="3.2" stroke="#555" stroke-width="0.5"/>
<text x="256.8" y="15.5" font-size="2.6" font-weight="normal" text-anchor="end" fill="#444">80</text>
<line x1="257.8" y1="14.6" x2="259" y2="14.6" stroke="#555" stroke-width="0.5"/>
<text x="256.8" y="26.9" font-size="2.6" font-weight="normal" text-anchor="end" fill="#444">60</text>
<line x1="257.8" y1="26" x2="259" y2="26" stroke="#555" stroke-width="0.5"/>
<text x="256.8" y="38.6" font-size="2.6" font-weight="normal" text-anchor="end" fill="#444">40</text>
<line x1="257.8" y1="37.7" x2="259" y2="37.7" stroke="#555" stroke-width="0.5"/>
<text x="256.8" y="49.9" font-size="2.6" font-weight="normal" text-anchor="end" fill="#444">20</text>
<line x1="257.8" y1="49" x2="259" y2="49" stroke="#555" stroke-width="0.5"/>
<text x="256.8" y="61.199999999999996" font-size="2.6" font-weight="normal" text-anchor="end" fill="#444">0</text>
<line x1="257.8" y1="60.3" x2="259" y2="60.3" stroke="#555" stroke-width="0.5"/>
<text x="249.5" y="33" font-size="2.4" font-weight="normal" text-anchor="middle" fill="#555" transform="rotate(-90 249.5 33)">% of Max</text>
<text x="268.5" y="64" font-size="2.8" font-weight="normal" text-anchor="middle" fill="#444">0</text>
<text x="273" y="64" font-size="2.8" font-weight="normal" text-anchor="middle" fill="#444">10²</text>
<text x="287" y="64" font-size="2.8" font-weight="normal" text-anchor="middle" fill="#444">10³</text>
<text x="301.5" y="64" font-size="2.8" font-weight="normal" text-anchor="middle" fill="#444">10⁴</text>
<text x="316" y="64" font-size="2.8" font-weight="normal" text-anchor="middle" fill="#444">10⁵</text>
<text x="291" y="68.4" font-size="2.7" font-weight="normal" text-anchor="middle" fill="#444">HIFC-A:: SLAMF7 PE3</text>
<text x="271.5" y="6.6" font-size="3.7" font-weight="normal" text-anchor="middle" fill="#444">SKOV3</text>
<text x="271.5" y="11" font-size="3.7" font-weight="normal" text-anchor="middle" fill="#444">parental</text>
<text x="267" y="25.8" font-size="3.7" font-weight="normal" text-anchor="middle" fill="#444">Isotype</text>
<text x="267" y="30.2" font-size="3.7" font-weight="normal" text-anchor="middle" fill="#444">control</text>
<text x="312.5" y="7.2" font-size="3.7" font-weight="normal" text-anchor="middle" fill="#444">SKOV3</text>
<text x="312.5" y="11.8" font-size="3.7" font-weight="normal" text-anchor="middle" fill="#444">+SLAMF7</text>
<line x1="272.3" y1="12.3" x2="278.1" y2="16.2" stroke="#000" stroke-width="1.8"/>
<polygon points="281.0,18.2 276.5,17.7 278.9,14.2" fill="#000"/>
<line x1="267" y1="32" x2="273.4" y2="36.3" stroke="#000" stroke-width="1.8"/>
<polygon points="276.3,38.2 271.8,37.7 274.1,34.2" fill="#000"/>
<line x1="309.2" y1="14.6" x2="306.6" y2="21.3" stroke="#000" stroke-width="1.8"/>
<polygon points="305.3,24.6 304.8,20.1 308.7,21.6" fill="#000"/>
<text x="329" y="13.3" font-size="13.5" font-weight="bold" text-anchor="start" fill="#000" stroke="#000" stroke-width="0.22">C</text>
<line x1="349.5" y1="2" x2="349.5" y2="130" stroke="#444" stroke-width="0.9"/>
<line x1="349.5" y1="22.5" x2="502.5" y2="22.5" stroke="#888" stroke-width="1.0"/>
<line x1="347.5" y1="2.8000000000000007" x2="349.5" y2="2.8000000000000007" stroke="#666" stroke-width="0.7"/>
<text x="346.7" y="4.6000000000000005" font-size="5.0" font-weight="bold" text-anchor="end" fill="#222">20</text>
<line x1="347.5" y1="22.5" x2="349.5" y2="22.5" stroke="#666" stroke-width="0.7"/>
<text x="346.7" y="24.3" font-size="5.0" font-weight="bold" text-anchor="end" fill="#222">0</text>
<line x1="347.5" y1="42.2" x2="349.5" y2="42.2" stroke="#666" stroke-width="0.7"/>
<text x="346.7" y="44.0" font-size="5.0" font-weight="bold" text-anchor="end" fill="#222">-20</text>
<line x1="347.5" y1="61.9" x2="349.5" y2="61.9" stroke="#666" stroke-width="0.7"/>
<text x="346.7" y="63.699999999999996" font-size="5.0" font-weight="bold" text-anchor="end" fill="#222">-40</text>
<line x1="347.5" y1="81.6" x2="349.5" y2="81.6" stroke="#666" stroke-width="0.7"/>
<text x="346.7" y="83.39999999999999" font-size="5.0" font-weight="bold" text-anchor="end" fill="#222">-60</text>
<line x1="347.5" y1="101.3" x2="349.5" y2="101.3" stroke="#666" stroke-width="0.7"/>
<text x="346.7" y="103.1" font-size="5.0" font-weight="bold" text-anchor="end" fill="#222">-80</text>
<line x1="347.5" y1="121.0" x2="349.5" y2="121.0" stroke="#666" stroke-width="0.7"/>
<text x="346.7" y="122.8" font-size="5.0" font-weight="bold" text-anchor="end" fill="#222">-100</text>
<text x="378.7" y="127.8" font-size="5.0" font-weight="bold" text-anchor="middle" fill="#222">2</text>
<text x="407.9" y="127.8" font-size="5.0" font-weight="bold" text-anchor="middle" fill="#222">4</text>
<text x="437.1" y="127.8" font-size="5.0" font-weight="bold" text-anchor="middle" fill="#222">6</text>
<text x="466.3" y="127.8" font-size="5.0" font-weight="bold" text-anchor="middle" fill="#222">8</text>
<text x="495.5" y="127.8" font-size="5.0" font-weight="bold" text-anchor="middle" fill="#222">10</text>
<text x="418.85" y="132.3" font-size="5.8" font-weight="bold" text-anchor="middle" fill="#222">Time (h)</text>
<text x="337.5" y="66.825" font-size="5.6" font-weight="bold" text-anchor="middle" fill="#222" transform="rotate(-90 337.5 66.825)">Cell index</text>
<path d="M349.5,22.5 L351.3,52.0 L352.0,109.2" stroke="#999" stroke-width="0.8" fill="none"/>
<path d="M352.0,109.2 C352.8,109.3 355.3,109.6 356.8,110.2 C358.3,110.7 359.5,111.9 361.2,112.6 C362.9,113.4 364.1,113.9 367.0,114.6 C369.9,115.3 374.3,116.4 378.7,117.1 C383.1,117.7 388.4,118.1 393.3,118.5 C398.2,118.9 400.6,119.2 407.9,119.5 C415.2,119.8 427.4,120.1 437.1,120.3 C446.8,120.5 456.6,120.7 466.3,120.8 C476.0,120.9 490.6,121.0 495.5,121.0" stroke="#000" stroke-width="1.3" fill="none" stroke-dasharray="1.4,1.2"/>
<path d="M349.5,22.5 C350.2,22.8 352.2,23.6 353.9,24.5 C355.6,25.3 357.5,26.4 359.7,27.4 C361.9,28.4 364.3,29.6 367.0,30.4 C369.7,31.1 372.6,31.7 375.8,31.9 C378.9,32.0 381.9,31.9 386.0,31.4 C390.1,30.9 395.7,29.7 400.6,28.9 C405.5,28.1 410.3,27.2 415.2,26.4 C420.1,25.7 424.9,24.8 429.8,24.3 C434.7,23.7 438.3,23.3 444.4,23.0 C450.5,22.6 457.8,22.3 466.3,22.2 C474.8,22.1 490.6,22.2 495.5,22.2" stroke="#000" stroke-width="1.1" fill="none" stroke-dasharray="1.4,1.2"/>
<path d="M349.5,22.5 C350.1,22.8 352.2,23.2 353.1,24.5 C354.1,25.8 354.4,27.7 355.0,30.4 C355.7,33.1 356.2,39.4 356.8,40.7 C357.4,42.0 357.8,39.2 358.6,38.3 C359.3,37.4 359.8,36.0 361.2,35.3 C362.6,34.6 364.1,34.2 367.0,33.8 C369.9,33.4 374.3,33.2 378.7,33.0 C383.1,32.9 388.4,32.6 393.3,32.8 C398.2,33.1 403.0,33.7 407.9,34.3 C412.8,35.0 417.6,36.0 422.5,36.8 C427.4,37.6 429.8,38.1 437.1,39.2 C444.4,40.4 456.6,42.3 466.3,43.7 C476.0,45.1 490.6,47.0 495.5,47.6" stroke="#000" stroke-width="1.2" fill="none" stroke-dasharray="1.4,1.2"/>
<path d="M349.5,22.5 C350.2,22.9 352.2,24.0 353.9,25.0 C355.6,25.9 357.5,27.2 359.7,28.4 C361.9,29.6 363.9,31.4 367.0,32.2 C370.2,32.9 374.3,33.0 378.7,33.1 C383.1,33.3 388.4,32.9 393.3,33.1 C398.2,33.4 403.0,34.1 407.9,34.8 C412.8,35.6 417.6,36.6 422.5,37.6 C427.4,38.5 429.8,39.2 437.1,40.5 C444.4,41.9 456.6,44.0 466.3,45.6 C476.0,47.3 490.6,49.6 495.5,50.4" stroke="#000" stroke-width="1.2" fill="none" stroke-dasharray="1.4,1.2"/>
<path d="M349.5,22.5 C350.2,23.0 352.2,24.3 353.9,25.5 C355.6,26.6 357.5,28.2 359.7,29.4 C361.9,30.6 363.9,32.0 367.0,32.6 C370.2,33.3 374.3,33.3 378.7,33.4 C383.1,33.6 388.4,33.1 393.3,33.4 C398.2,33.7 403.0,34.5 407.9,35.3 C412.8,36.1 417.6,37.2 422.5,38.3 C427.4,39.3 429.8,40.1 437.1,41.7 C444.4,43.3 456.6,45.7 466.3,47.6 C476.0,49.5 490.6,52.1 495.5,53.0" stroke="#000" stroke-width="1.2" fill="none" stroke-dasharray="1.4,1.2"/>
<path d="M353.9,24.5 L356.8,40.2 L360.4,35.3" stroke="#555" stroke-width="0.7" fill="none"/>
<text x="495" y="19.0" font-size="7.8" font-weight="bold" text-anchor="end" fill="#000" stroke="#000" stroke-width="0.22">SKOV3 only</text>
<text x="388" y="63.2" font-size="7.7" font-weight="bold" text-anchor="start" fill="#000" stroke="#000" stroke-width="0.22">+NK92(SLAMF7<tspan dy="-2.4" font-size="85%">+</tspan><tspan dy="2.4">,CD16</tspan><tspan dy="-2.8" font-size="85%">−</tspan><tspan dy="2.8">)</tspan>+Elo</text>
<text x="388" y="70.2" font-size="7.7" font-weight="bold" text-anchor="start" fill="#000" stroke="#000" stroke-width="0.22">+NK92(SLAMF7<tspan dy="-2.4" font-size="85%">+</tspan><tspan dy="2.4">,CD16</tspan><tspan dy="-2.8" font-size="85%">−</tspan><tspan dy="2.8">)</tspan></text>
<text x="388" y="77.4" font-size="7.7" font-weight="bold" text-anchor="start" fill="#000" stroke="#000" stroke-width="0.22">+NK92(SLAMF7<tspan dy="-2.4" font-size="85%">+</tspan><tspan dy="2.4">,CD16</tspan><tspan dy="-2.8" font-size="85%">−</tspan><tspan dy="2.8">)</tspan>+Her</text>
<text x="492" y="117.5" font-size="7.7" font-weight="bold" text-anchor="end" fill="#000" stroke="#000" stroke-width="0.22">+Lysis</text>
<line x1="351" y1="142.5" x2="351" y2="272" stroke="#444" stroke-width="0.9"/>
<line x1="351" y1="164.5" x2="504" y2="164.5" stroke="#888" stroke-width="1.0"/>
<line x1="349" y1="144.8" x2="351" y2="144.8" stroke="#666" stroke-width="0.7"/>
<text x="348.2" y="146.60000000000002" font-size="5.0" font-weight="bold" text-anchor="end" fill="#222">20</text>
<line x1="349" y1="164.5" x2="351" y2="164.5" stroke="#666" stroke-width="0.7"/>
<text x="348.2" y="166.3" font-size="5.0" font-weight="bold" text-anchor="end" fill="#222">0</text>
<line x1="349" y1="184.2" x2="351" y2="184.2" stroke="#666" stroke-width="0.7"/>
<text x="348.2" y="186.0" font-size="5.0" font-weight="bold" text-anchor="end" fill="#222">-20</text>
<line x1="349" y1="203.9" x2="351" y2="203.9" stroke="#666" stroke-width="0.7"/>
<text x="348.2" y="205.70000000000002" font-size="5.0" font-weight="bold" text-anchor="end" fill="#222">-40</text>
<line x1="349" y1="223.6" x2="351" y2="223.6" stroke="#666" stroke-width="0.7"/>
<text x="348.2" y="225.4" font-size="5.0" font-weight="bold" text-anchor="end" fill="#222">-60</text>
<line x1="349" y1="243.3" x2="351" y2="243.3" stroke="#666" stroke-width="0.7"/>
<text x="348.2" y="245.10000000000002" font-size="5.0" font-weight="bold" text-anchor="end" fill="#222">-80</text>
<line x1="349" y1="263.0" x2="351" y2="263.0" stroke="#666" stroke-width="0.7"/>
<text x="348.2" y="264.8" font-size="5.0" font-weight="bold" text-anchor="end" fill="#222">-100</text>
<text x="380.2" y="269.1" font-size="5.0" font-weight="bold" text-anchor="middle" fill="#222">2</text>
<text x="409.4" y="269.1" font-size="5.0" font-weight="bold" text-anchor="middle" fill="#222">4</text>
<text x="438.6" y="269.1" font-size="5.0" font-weight="bold" text-anchor="middle" fill="#222">6</text>
<text x="467.8" y="269.1" font-size="5.0" font-weight="bold" text-anchor="middle" fill="#222">8</text>
<text x="497.0" y="269.1" font-size="5.0" font-weight="bold" text-anchor="middle" fill="#222">10</text>
<text x="420.35" y="274.6" font-size="5.8" font-weight="bold" text-anchor="middle" fill="#222">Time (h)</text>
<text x="335" y="208.825" font-size="5.6" font-weight="bold" text-anchor="middle" fill="#222" transform="rotate(-90 335 208.825)">Cell index</text>
<path d="M351.0,164.5 L352.8,194.1 L353.5,252.2" stroke="#999" stroke-width="0.8" fill="none"/>
<path d="M353.5,252.2 C354.3,252.3 356.5,252.7 358.3,253.2 C360.1,253.6 361.7,254.4 364.1,255.1 C366.6,255.9 369.7,256.9 372.9,257.6 C376.1,258.3 379.5,258.9 383.1,259.4 C386.8,259.8 390.4,260.2 394.8,260.5 C399.2,260.9 402.1,261.2 409.4,261.5 C416.7,261.9 428.9,262.3 438.6,262.5 C448.3,262.8 458.1,262.9 467.8,263.0 C477.5,263.1 492.1,263.2 497.0,263.3" stroke="#000" stroke-width="1.3" fill="none" stroke-dasharray="1.4,1.2"/>
<path d="M351.0,164.5 C351.7,165.0 354.2,166.0 355.4,167.5 C356.6,168.9 357.3,172.7 358.3,173.4 C359.3,174.0 359.6,171.5 361.2,171.4 C362.9,171.3 365.6,172.9 368.1,172.7 C370.5,172.5 373.3,171.1 375.8,170.3 C378.3,169.5 380.5,168.8 383.1,168.0 C385.7,167.3 389.2,166.3 391.3,165.7 C393.4,165.1 393.3,165.2 395.8,164.5 C398.4,163.8 403.5,162.3 406.5,161.4 C409.5,160.6 410.7,160.2 413.8,159.6 C416.9,159.0 419.7,158.6 425.0,157.8 C430.4,157.0 438.8,155.8 445.9,155.0 C453.0,154.3 459.3,153.8 467.8,153.4 C476.3,152.9 492.1,152.5 497.0,152.3" stroke="#000" stroke-width="1.2" fill="none" stroke-dasharray="1.4,1.2"/>
<path d="M351.0,164.5 C351.7,165.0 354.2,165.5 355.4,167.5 C356.6,169.4 357.3,175.5 358.3,176.3 C359.3,177.1 360.0,173.0 361.2,172.4 C362.4,171.8 363.7,173.0 365.6,172.9 C367.5,172.8 370.0,172.3 372.9,171.9 C375.8,171.5 378.7,170.4 383.1,170.3 C387.5,170.2 395.3,170.8 399.2,171.1 C403.1,171.4 404.0,171.7 406.5,172.2 C408.9,172.7 410.7,173.2 413.8,174.2 C416.9,175.1 420.9,176.4 425.0,177.7 C429.2,179.0 433.9,180.6 438.6,182.0 C443.3,183.5 448.3,185.1 453.2,186.5 C458.1,187.8 460.5,188.8 467.8,190.1 C475.1,191.5 492.1,193.8 497.0,194.5" stroke="#000" stroke-width="1.2" fill="none" stroke-dasharray="1.4,1.2"/>
<path d="M351.0,164.5 C351.7,165.0 354.2,165.6 355.4,167.5 C356.6,169.3 357.3,174.3 358.3,175.3 C359.3,176.4 360.0,174.0 361.2,173.9 C362.4,173.7 363.7,174.3 365.6,174.3 C367.5,174.3 370.0,174.1 372.9,173.9 C375.8,173.6 378.7,172.7 383.1,172.7 C387.5,172.7 395.3,173.4 399.2,173.8 C403.1,174.1 404.0,174.5 406.5,174.9 C408.9,175.4 410.7,175.7 413.8,176.5 C416.9,177.3 420.9,178.2 425.0,179.6 C429.2,180.9 433.9,183.0 438.6,184.7 C443.3,186.4 448.3,188.1 453.2,189.6 C458.1,191.1 460.5,192.1 467.8,193.6 C475.1,195.0 492.1,197.7 497.0,198.5" stroke="#000" stroke-width="1.2" fill="none" stroke-dasharray="1.4,1.2"/>
<path d="M351.0,164.5 C351.7,165.2 354.2,165.4 355.4,168.4 C356.6,171.5 357.4,181.0 358.3,182.6 C359.2,184.2 359.3,178.7 360.5,178.0 C361.7,177.3 363.5,178.2 365.6,178.3 C367.7,178.4 370.0,177.9 372.9,178.8 C375.8,179.6 380.1,182.0 383.1,183.4 C386.2,184.8 388.6,185.8 391.3,187.3 C394.0,188.7 396.6,190.5 399.2,191.9 C401.7,193.3 404.0,194.4 406.5,195.7 C408.9,197.0 410.7,198.0 413.8,199.6 C416.9,201.1 420.9,202.8 425.0,204.9 C429.2,206.9 433.9,209.6 438.6,211.8 C443.3,213.9 448.3,215.9 453.2,217.7 C458.1,219.5 460.5,220.7 467.8,222.6 C475.1,224.5 492.1,228.0 497.0,229.0" stroke="#000" stroke-width="1.2" fill="none" stroke-dasharray="1.4,1.2"/>
<text x="404" y="152.8" font-size="7.7" font-weight="bold" text-anchor="start" fill="#000" stroke="#000" stroke-width="0.22">SKOV3(+SLAMF7) only</text>
<text x="411" y="174.4" font-size="7.7" font-weight="bold" text-anchor="start" fill="#000" stroke="#000" stroke-width="0.22">+NK92(SLAMF7<tspan dy="-2.4" font-size="85%">+</tspan><tspan dy="2.4">,CD16</tspan><tspan dy="-2.8" font-size="85%">−</tspan><tspan dy="2.8">)</tspan>+Her</text>
<text x="430.5" y="207.3" font-size="7.7" font-weight="bold" text-anchor="start" fill="#000" stroke="#000" stroke-width="0.22">+NK92(SLAMF7<tspan dy="-2.4" font-size="85%">+</tspan><tspan dy="2.4">,CD16</tspan><tspan dy="-2.8" font-size="85%">−</tspan><tspan dy="2.8">)</tspan></text>
<text x="371" y="233" font-size="7.7" font-weight="bold" text-anchor="start" fill="#000" stroke="#000" stroke-width="0.22">+NK92(SLAMF7<tspan dy="-2.4" font-size="85%">+</tspan><tspan dy="2.4">,CD16</tspan><tspan dy="-2.8" font-size="85%">−</tspan><tspan dy="2.8">)</tspan>+Elo</text>
<text x="492.3" y="260.5" font-size="7.7" font-weight="bold" text-anchor="end" fill="#000" stroke="#000" stroke-width="0.22">+Lysis</text>
<line x1="465.4" y1="175.8" x2="458.4" y2="180.4" stroke="#000" stroke-width="2.2"/>
<polygon points="454.6,182.8 457.4,177.9 460.2,182.3" fill="#000"/>
<line x1="435" y1="197.2" x2="442.2" y2="193.4" stroke="#000" stroke-width="2.2"/>
<polygon points="446.2,191.3 443.0,195.9 440.6,191.3" fill="#000"/>
<line x1="424" y1="222" x2="430.8" y2="217.9" stroke="#000" stroke-width="2.2"/>
<polygon points="434.7,215.6 431.7,220.4 429.1,215.9" fill="#000"/>
<text x="8" y="296.8" font-size="13.5" font-weight="bold" text-anchor="start" fill="#000" stroke="#000" stroke-width="0.22">D</text>
<line x1="51.2" y1="403.2685" x2="51.2" y2="395.64824999999996" stroke="#555" stroke-width="0.7"/>
<line x1="47.0" y1="403.2685" x2="55.400000000000006" y2="403.2685" stroke="#555" stroke-width="0.7"/>
<line x1="75.2" y1="346.2511" x2="75.2" y2="370.00835" stroke="#111" stroke-width="0.8"/>
<line x1="69.7" y1="346.2511" x2="80.7" y2="346.2511" stroke="#111" stroke-width="0.8"/>
<rect x="66.7" y="370.00835" width="17" height="25.19164999999998" fill="#000" stroke="none" stroke-width="1"/>
<line x1="99.0" y1="347.05795" x2="99.0" y2="368.03605" stroke="#111" stroke-width="0.8"/>
<line x1="93.5" y1="347.05795" x2="104.5" y2="347.05795" stroke="#111" stroke-width="0.8"/>
<rect x="90.5" y="368.03605" width="17" height="27.16395" fill="#000" stroke="none" stroke-width="1"/>
<line x1="123.5" y1="350.375" x2="123.5" y2="369.82905" stroke="#111" stroke-width="0.8"/>
<line x1="118.0" y1="350.375" x2="129.0" y2="350.375" stroke="#111" stroke-width="0.8"/>
<rect x="115" y="369.82905" width="17" height="25.370949999999993" fill="#000" stroke="none" stroke-width="1"/>
<line x1="147.8" y1="352.5266" x2="147.8" y2="372.51855" stroke="#111" stroke-width="0.8"/>
<line x1="142.3" y1="352.5266" x2="153.3" y2="352.5266" stroke="#111" stroke-width="0.8"/>
<rect x="139.3" y="372.51855" width="17" height="22.681449999999984" fill="#000" stroke="none" stroke-width="1"/>
<line x1="172.0" y1="359.96755" x2="172.0" y2="366.6913" stroke="#111" stroke-width="0.8"/>
<line x1="166.5" y1="359.96755" x2="177.5" y2="359.96755" stroke="#111" stroke-width="0.8"/>
<rect x="163.5" y="366.6913" width="17" height="28.508699999999976" fill="#000" stroke="none" stroke-width="1"/>
<line x1="38.5" y1="305.0" x2="38.5" y2="422.5" stroke="#000" stroke-width="1.2"/>
<line x1="38.5" y1="422" x2="184" y2="422" stroke="#000" stroke-width="1.25"/>
<line x1="38.5" y1="395.09999999999997" x2="184" y2="395.09999999999997" stroke="#000" stroke-width="1.45"/>
<line x1="36.0" y1="305.55" x2="38.5" y2="305.55" stroke="#000" stroke-width="0.9"/>
<text x="35.7" y="307.65000000000003" font-size="6.0" font-weight="bold" text-anchor="end" fill="#000" stroke="#000" stroke-width="0.22">100</text>
<line x1="36.0" y1="323.48" x2="38.5" y2="323.48" stroke="#000" stroke-width="0.9"/>
<text x="35.7" y="325.58000000000004" font-size="6.0" font-weight="bold" text-anchor="end" fill="#000" stroke="#000" stroke-width="0.22">80</text>
<line x1="36.0" y1="341.40999999999997" x2="38.5" y2="341.40999999999997" stroke="#000" stroke-width="0.9"/>
<text x="35.7" y="343.51" font-size="6.0" font-weight="bold" text-anchor="end" fill="#000" stroke="#000" stroke-width="0.22">60</text>
<line x1="36.0" y1="359.34" x2="38.5" y2="359.34" stroke="#000" stroke-width="0.9"/>
<text x="35.7" y="361.44" font-size="6.0" font-weight="bold" text-anchor="end" fill="#000" stroke="#000" stroke-width="0.22">40</text>
<line x1="36.0" y1="377.27" x2="38.5" y2="377.27" stroke="#000" stroke-width="0.9"/>
<text x="35.7" y="379.37" font-size="6.0" font-weight="bold" text-anchor="end" fill="#000" stroke="#000" stroke-width="0.22">20</text>
<line x1="36.0" y1="395.2" x2="38.5" y2="395.2" stroke="#000" stroke-width="0.9"/>
<text x="35.7" y="397.3" font-size="6.0" font-weight="bold" text-anchor="end" fill="#000" stroke="#000" stroke-width="0.22">0</text>
<line x1="36.0" y1="413.13" x2="38.5" y2="413.13" stroke="#000" stroke-width="0.9"/>
<text x="35.7" y="415.23" font-size="6.0" font-weight="bold" text-anchor="end" fill="#000" stroke="#000" stroke-width="0.22">-20</text>
<line x1="51" y1="422" x2="51" y2="424.6" stroke="#000" stroke-width="1.1"/>
<line x1="75.3" y1="422" x2="75.3" y2="424.6" stroke="#000" stroke-width="1.1"/>
<line x1="99.3" y1="422" x2="99.3" y2="424.6" stroke="#000" stroke-width="1.1"/>
<line x1="123" y1="422" x2="123" y2="424.6" stroke="#000" stroke-width="1.1"/>
<line x1="147.3" y1="422" x2="147.3" y2="424.6" stroke="#000" stroke-width="1.1"/>
<line x1="172" y1="422" x2="172" y2="424.6" stroke="#000" stroke-width="1.1"/>
<text x="23.8" y="363.75" font-size="8.6" font-weight="bold" text-anchor="middle" fill="#000" transform="rotate(-90 23.8 363.75)" stroke="#000" stroke-width="0.22">% Target cell death in 10 h</text>
<text x="40.8" y="301.0" font-size="7.5" font-weight="bold" text-anchor="start" fill="#000" stroke="#000" stroke-width="0.22">SKOV3 + NK92(SLAMF7<tspan dy="-2.2" font-size="85%">+</tspan><tspan dy="2.2">,CD16</tspan><tspan dy="-2.6" font-size="85%">−</tspan><tspan dy="2.6">) + Elo</tspan></text>
<text x="1.2" y="435.6" font-size="7.5" font-weight="bold" text-anchor="start" fill="#000" stroke="#000" stroke-width="0.22">Targets:</text>
<text x="1.2" y="444.90000000000003" font-size="7.5" font-weight="bold" text-anchor="start" fill="#000" stroke="#000" stroke-width="0.22">Effectors:</text>
<text x="1.2" y="453.3" font-size="7.5" font-weight="bold">Elo <tspan font-weight="normal" fill="#222" font-size="7.4">(µg/mL)</tspan> :</text>
<text x="51" y="435.8" font-size="8.4" font-weight="bold" text-anchor="middle" fill="#000" stroke="#000" stroke-width="0.22">+</text>
<text x="51" y="445.1" font-size="8.4" font-weight="bold" text-anchor="middle" fill="#000" stroke="#000" stroke-width="0.22">−</text>
<text x="75.3" y="435.8" font-size="8.4" font-weight="bold" text-anchor="middle" fill="#000" stroke="#000" stroke-width="0.22">+</text>
<text x="75.3" y="445.1" font-size="8.4" font-weight="bold" text-anchor="middle" fill="#000" stroke="#000" stroke-width="0.22">+</text>
<text x="99.3" y="435.8" font-size="8.4" font-weight="bold" text-anchor="middle" fill="#000" stroke="#000" stroke-width="0.22">+</text>
<text x="99.3" y="445.1" font-size="8.4" font-weight="bold" text-anchor="middle" fill="#000" stroke="#000" stroke-width="0.22">+</text>
<text x="123" y="435.8" font-size="8.4" font-weight="bold" text-anchor="middle" fill="#000" stroke="#000" stroke-width="0.22">+</text>
<text x="123" y="445.1" font-size="8.4" font-weight="bold" text-anchor="middle" fill="#000" stroke="#000" stroke-width="0.22">+</text>
<text x="147.3" y="435.8" font-size="8.4" font-weight="bold" text-anchor="middle" fill="#000" stroke="#000" stroke-width="0.22">+</text>
<text x="147.3" y="445.1" font-size="8.4" font-weight="bold" text-anchor="middle" fill="#000" stroke="#000" stroke-width="0.22">+</text>
<text x="172" y="435.8" font-size="8.4" font-weight="bold" text-anchor="middle" fill="#000" stroke="#000" stroke-width="0.22">+</text>
<text x="172" y="445.1" font-size="8.4" font-weight="bold" text-anchor="middle" fill="#000" stroke="#000" stroke-width="0.22">+</text>
<text x="51" y="453.09999999999997" font-size="7.5" font-weight="bold" text-anchor="middle" fill="#000" stroke="#000" stroke-width="0.22">−</text>
<text x="75.3" y="453.09999999999997" font-size="7.5" font-weight="bold" text-anchor="middle" fill="#000" stroke="#000" stroke-width="0.22">−</text>
<text x="99.3" y="453.09999999999997" font-size="6.9" font-weight="bold" text-anchor="middle" fill="#000" stroke="#000" stroke-width="0.22">0.1</text>
<text x="123" y="453.09999999999997" font-size="6.9" font-weight="bold" text-anchor="middle" fill="#000" stroke="#000" stroke-width="0.22">1</text>
<text x="147.3" y="453.09999999999997" font-size="6.9" font-weight="bold" text-anchor="middle" fill="#000" stroke="#000" stroke-width="0.22">10</text>
<text x="172" y="453.09999999999997" font-size="6.9" font-weight="bold" text-anchor="middle" fill="#000" stroke="#000" stroke-width="0.22">100</text>
<polygon points="75,463.3 174,463.3 174,455.6" fill="#000"/>
<line x1="240.35" y1="422.81" x2="240.35" y2="408.57" stroke="#555" stroke-width="0.7"/>
<line x1="236.15" y1="422.81" x2="244.54999999999998" y2="422.81" stroke="#555" stroke-width="0.7"/>
<rect x="232" y="397.0" width="16.7" height="11.569999999999993" fill="#000" stroke="none" stroke-width="1"/>
<line x1="264.5" y1="343.6" x2="264.5" y2="366.295" stroke="#111" stroke-width="0.8"/>
<line x1="259.0" y1="343.6" x2="270.0" y2="343.6" stroke="#111" stroke-width="0.8"/>
<rect x="256" y="366.295" width="17" height="30.704999999999984" fill="#000" stroke="none" stroke-width="1"/>
<line x1="288.5" y1="333.81" x2="288.5" y2="354.28" stroke="#111" stroke-width="0.8"/>
<line x1="283.0" y1="333.81" x2="294.0" y2="333.81" stroke="#111" stroke-width="0.8"/>
<rect x="280" y="354.28" width="17" height="42.72000000000003" fill="#000" stroke="none" stroke-width="1"/>
<line x1="312.5" y1="324.02" x2="312.5" y2="345.38" stroke="#111" stroke-width="0.8"/>
<line x1="307.0" y1="324.02" x2="318.0" y2="324.02" stroke="#111" stroke-width="0.8"/>
<rect x="304" y="345.38" width="17" height="51.620000000000005" fill="#000" stroke="none" stroke-width="1"/>
<line x1="336.5" y1="329.36" x2="336.5" y2="338.705" stroke="#111" stroke-width="0.8"/>
<line x1="331.0" y1="329.36" x2="342.0" y2="329.36" stroke="#111" stroke-width="0.8"/>
<rect x="328" y="338.705" width="17" height="58.295000000000016" fill="#000" stroke="none" stroke-width="1"/>
<line x1="360.8" y1="330.517" x2="360.8" y2="345.736" stroke="#111" stroke-width="0.8"/>
<line x1="355.3" y1="330.517" x2="366.3" y2="330.517" stroke="#111" stroke-width="0.8"/>
<rect x="352.3" y="345.736" width="17" height="51.26400000000001" fill="#000" stroke="none" stroke-width="1"/>
<line x1="228.2" y1="307.5" x2="228.2" y2="424.2" stroke="#000" stroke-width="1.2"/>
<line x1="228.2" y1="423.7" x2="373" y2="423.7" stroke="#000" stroke-width="1.25"/>
<line x1="228.2" y1="396.9" x2="373" y2="396.9" stroke="#000" stroke-width="1.45"/>
<line x1="225.7" y1="308.0" x2="228.2" y2="308.0" stroke="#000" stroke-width="0.9"/>
<text x="225.39999999999998" y="310.1" font-size="6.0" font-weight="bold" text-anchor="end" fill="#000" stroke="#000" stroke-width="0.22">100</text>
<line x1="225.7" y1="325.8" x2="228.2" y2="325.8" stroke="#000" stroke-width="0.9"/>
<text x="225.39999999999998" y="327.90000000000003" font-size="6.0" font-weight="bold" text-anchor="end" fill="#000" stroke="#000" stroke-width="0.22">80</text>
<line x1="225.7" y1="343.6" x2="228.2" y2="343.6" stroke="#000" stroke-width="0.9"/>
<text x="225.39999999999998" y="345.70000000000005" font-size="6.0" font-weight="bold" text-anchor="end" fill="#000" stroke="#000" stroke-width="0.22">60</text>
<line x1="225.7" y1="361.4" x2="228.2" y2="361.4" stroke="#000" stroke-width="0.9"/>
<text x="225.39999999999998" y="363.5" font-size="6.0" font-weight="bold" text-anchor="end" fill="#000" stroke="#000" stroke-width="0.22">40</text>
<line x1="225.7" y1="379.2" x2="228.2" y2="379.2" stroke="#000" stroke-width="0.9"/>
<text x="225.39999999999998" y="381.3" font-size="6.0" font-weight="bold" text-anchor="end" fill="#000" stroke="#000" stroke-width="0.22">20</text>
<line x1="225.7" y1="397.0" x2="228.2" y2="397.0" stroke="#000" stroke-width="0.9"/>
<text x="225.39999999999998" y="399.1" font-size="6.0" font-weight="bold" text-anchor="end" fill="#000" stroke="#000" stroke-width="0.22">0</text>
<line x1="225.7" y1="414.8" x2="228.2" y2="414.8" stroke="#000" stroke-width="0.9"/>
<text x="225.39999999999998" y="416.90000000000003" font-size="6.0" font-weight="bold" text-anchor="end" fill="#000" stroke="#000" stroke-width="0.22">-20</text>
<line x1="241" y1="423.7" x2="241" y2="426.3" stroke="#000" stroke-width="1.1"/>
<line x1="265" y1="423.7" x2="265" y2="426.3" stroke="#000" stroke-width="1.1"/>
<line x1="289" y1="423.7" x2="289" y2="426.3" stroke="#000" stroke-width="1.1"/>
<line x1="313" y1="423.7" x2="313" y2="426.3" stroke="#000" stroke-width="1.1"/>
<line x1="337" y1="423.7" x2="337" y2="426.3" stroke="#000" stroke-width="1.1"/>
<line x1="361" y1="423.7" x2="361" y2="426.3" stroke="#000" stroke-width="1.1"/>
<text x="211" y="365.85" font-size="8.6" font-weight="bold" text-anchor="middle" fill="#000" transform="rotate(-90 211 365.85)" stroke="#000" stroke-width="0.22">% Target cell death in 10 h</text>
<text x="218" y="303" font-size="7.5" font-weight="bold" text-anchor="start" fill="#000" stroke="#000" stroke-width="0.22">SKOV3(+SLAMF7) + NK92(SLAMF7<tspan dy="-2.2" font-size="85%">+</tspan><tspan dy="2.2">,CD16</tspan><tspan dy="-2.6" font-size="85%">−</tspan><tspan dy="2.6">) + Elo</tspan></text>
<text x="194.3" y="436.6" font-size="7.5" font-weight="bold" text-anchor="start" fill="#000" stroke="#000" stroke-width="0.22">Targets:</text>
<text x="194.3" y="445.6" font-size="7.5" font-weight="bold" text-anchor="start" fill="#000" stroke="#000" stroke-width="0.22">Effectors:</text>
<text x="194.3" y="454.90000000000003" font-size="7.5" font-weight="bold">Elo <tspan font-weight="normal" fill="#222" font-size="7.4">(µg/mL)</tspan> :</text>
<text x="241" y="436.8" font-size="8.4" font-weight="bold" text-anchor="middle" fill="#000" stroke="#000" stroke-width="0.22">+</text>
<text x="241" y="445.8" font-size="8.4" font-weight="bold" text-anchor="middle" fill="#000" stroke="#000" stroke-width="0.22">−</text>
<text x="265" y="436.8" font-size="8.4" font-weight="bold" text-anchor="middle" fill="#000" stroke="#000" stroke-width="0.22">+</text>
<text x="265" y="445.8" font-size="8.4" font-weight="bold" text-anchor="middle" fill="#000" stroke="#000" stroke-width="0.22">+</text>
<text x="289" y="436.8" font-size="8.4" font-weight="bold" text-anchor="middle" fill="#000" stroke="#000" stroke-width="0.22">+</text>
<text x="289" y="445.8" font-size="8.4" font-weight="bold" text-anchor="middle" fill="#000" stroke="#000" stroke-width="0.22">+</text>
<text x="313" y="436.8" font-size="8.4" font-weight="bold" text-anchor="middle" fill="#000" stroke="#000" stroke-width="0.22">+</text>
<text x="313" y="445.8" font-size="8.4" font-weight="bold" text-anchor="middle" fill="#000" stroke="#000" stroke-width="0.22">+</text>
<text x="337" y="436.8" font-size="8.4" font-weight="bold" text-anchor="middle" fill="#000" stroke="#000" stroke-width="0.22">+</text>
<text x="337" y="445.8" font-size="8.4" font-weight="bold" text-anchor="middle" fill="#000" stroke="#000" stroke-width="0.22">+</text>
<text x="361" y="436.8" font-size="8.4" font-weight="bold" text-anchor="middle" fill="#000" stroke="#000" stroke-width="0.22">+</text>
<text x="361" y="445.8" font-size="8.4" font-weight="bold" text-anchor="middle" fill="#000" stroke="#000" stroke-width="0.22">+</text>
<text x="241" y="454.7" font-size="7.5" font-weight="bold" text-anchor="middle" fill="#000" stroke="#000" stroke-width="0.22">−</text>
<text x="265" y="454.7" font-size="7.5" font-weight="bold" text-anchor="middle" fill="#000" stroke="#000" stroke-width="0.22">−</text>
<text x="289" y="454.7" font-size="6.9" font-weight="bold" text-anchor="middle" fill="#000" stroke="#000" stroke-width="0.22">0.1</text>
<text x="313" y="454.7" font-size="6.9" font-weight="bold" text-anchor="middle" fill="#000" stroke="#000" stroke-width="0.22">1</text>
<text x="337" y="454.7" font-size="6.9" font-weight="bold" text-anchor="middle" fill="#000" stroke="#000" stroke-width="0.22">10</text>
<text x="361" y="454.7" font-size="6.9" font-weight="bold" text-anchor="middle" fill="#000" stroke="#000" stroke-width="0.22">100</text>
<polygon points="265.8,464.6 362.3,464.6 362.3,457.5" fill="#000"/>
<line x1="264.5" y1="316.5" x2="336" y2="316.5" stroke="#000" stroke-width="1.0"/>
<line x1="264.5" y1="315.0" x2="264.5" y2="318.0" stroke="#000" stroke-width="1.0"/>
<line x1="336" y1="315.0" x2="336" y2="318.0" stroke="#000" stroke-width="1.0"/>
<line x1="264.5" y1="322.5" x2="312.5" y2="322.5" stroke="#000" stroke-width="1.0"/>
<line x1="264.5" y1="321.0" x2="264.5" y2="324.0" stroke="#000" stroke-width="1.0"/>
<line x1="312.5" y1="321.0" x2="312.5" y2="324.0" stroke="#000" stroke-width="1.0"/>
<line x1="264.5" y1="327.5" x2="288.5" y2="327.5" stroke="#000" stroke-width="1.0"/>
<line x1="264.5" y1="326.0" x2="264.5" y2="329.0" stroke="#000" stroke-width="1.0"/>
<line x1="288.5" y1="326.0" x2="288.5" y2="329.0" stroke="#000" stroke-width="1.0"/>
<text x="275" y="315.6" font-size="4.5" font-weight="bold" text-anchor="middle" fill="#000" stroke="#000" stroke-width="0.22">*</text>
<text x="275" y="322.3" font-size="4.5" font-weight="bold" text-anchor="middle" fill="#000" stroke="#000" stroke-width="0.22">**</text>
<text x="275" y="327.3" font-size="4.5" font-weight="bold" text-anchor="middle" fill="#000" stroke="#000" stroke-width="0.22">*</text>
<text x="8" y="487.8" font-size="13.5" font-weight="bold" text-anchor="start" fill="#000" stroke="#000" stroke-width="0.22">E</text>
<rect x="46.9" y="538" width="5.8" height="10" fill="#909090" stroke="none" stroke-width="1"/>
<rect x="70.1" y="538" width="5.4" height="10" fill="#909090" stroke="none" stroke-width="1"/>
<circle cx="61.4" cy="507.8" r="31.6" fill="#8b8b8b" stroke="#222" stroke-width="1.6"/>
<circle cx="51.1" cy="487.4" r="3.3" fill="#525252" stroke="#222" stroke-width="1.3"/>
<circle cx="65" cy="486.6" r="3.3" fill="#525252" stroke="#222" stroke-width="1.3"/>
<circle cx="43" cy="494.8" r="3.3" fill="#525252" stroke="#222" stroke-width="1.3"/>
<circle cx="58.4" cy="495.3" r="3.3" fill="#525252" stroke="#222" stroke-width="1.3"/>
<circle cx="51.7" cy="501.3" r="3.3" fill="#525252" stroke="#222" stroke-width="1.3"/>
<circle cx="42.5" cy="506.3" r="3.3" fill="#525252" stroke="#222" stroke-width="1.3"/>
<circle cx="65" cy="516.2" r="14.3" fill="#b3b3b3" stroke="#222" stroke-width="1.7"/>
<ellipse cx="49.6" cy="551.7" rx="5.4" ry="5.9" fill="#9a9a9a" stroke="#222" stroke-width="1.25"/>
<ellipse cx="49.6" cy="565.3" rx="5.4" ry="6.3" fill="#9a9a9a" stroke="#222" stroke-width="1.25"/>
<ellipse cx="72.2" cy="551.7" rx="5.4" ry="5.9" fill="#9a9a9a" stroke="#222" stroke-width="1.25"/>
<ellipse cx="72.7" cy="565.3" rx="5.4" ry="6.3" fill="#9a9a9a" stroke="#222" stroke-width="1.25"/>
<path d="M111.0,560.8 L91.0,563.6 L72.7,555.0" stroke="#000" stroke-width="2.9" fill="none" stroke-linejoin="miter"/>
<path d="M111.0,565.7 L91.0,568.4 L75.0,580.6" stroke="#000" stroke-width="2.9" fill="none" stroke-linejoin="miter"/>
<line x1="75" y1="551" x2="87.3" y2="556" stroke="#000" stroke-width="2.9"/>
<line x1="78" y1="584.4" x2="89" y2="576" stroke="#000" stroke-width="2.9"/>
<circle cx="68.7" cy="623.8" r="32.0" fill="#8b8b8b" stroke="#222" stroke-width="1.6"/>
<ellipse cx="81.9" cy="621.8" rx="12.7" ry="9.9" fill="#939393" stroke="#222" stroke-width="1.7"/>
<text x="108" y="503.2" font-size="8.9" font-weight="bold" text-anchor="start" fill="#000" textLength="31.7" lengthAdjust="spacingAndGlyphs" stroke="#000" stroke-width="0.22">NK cell</text>
<text x="98.8" y="514.4" font-size="8.9" font-weight="bold" text-anchor="start" fill="#000" textLength="50.4" lengthAdjust="spacingAndGlyphs" stroke="#000" stroke-width="0.22">(SLAMF7<tspan dy="-2.7" font-size="85%">+</tspan><tspan dy="2.7">)</tspan></text>
<text x="107" y="547.8" font-size="11.3" font-weight="bold" text-anchor="start" fill="#000" stroke="#000" stroke-width="0.22">No killing</text>
<text x="105" y="620" font-size="8.9" font-weight="bold" text-anchor="start" fill="#000" textLength="47" lengthAdjust="spacingAndGlyphs" stroke="#000" stroke-width="0.22">Target cell</text>
<text x="105" y="630.4" font-size="8.9" font-weight="bold" text-anchor="start" fill="#000" textLength="48" lengthAdjust="spacingAndGlyphs" stroke="#000" stroke-width="0.22">(SLAMF7<tspan dy="-3.2" font-size="85%">−</tspan><tspan dy="3.2">)</tspan></text>
<rect x="180" y="538" width="5" height="11" fill="#a0a0a0" stroke="none" stroke-width="1"/>
<rect x="202.6" y="538" width="5" height="11" fill="#a0a0a0" stroke="none" stroke-width="1"/>
<rect x="191.2" y="583" width="5.4" height="13" fill="#a0a0a0" stroke="none" stroke-width="1"/>
<rect x="214.4" y="583" width="5.4" height="13" fill="#a0a0a0" stroke="none" stroke-width="1"/>
<circle cx="194" cy="507.6" r="31.6" fill="#8b8b8b" stroke="#222" stroke-width="1.6"/>
<circle cx="184.4" cy="487.5" r="3.3" fill="#525252" stroke="#222" stroke-width="1.3"/>
<circle cx="197" cy="487.5" r="3.3" fill="#525252" stroke="#222" stroke-width="1.3"/>
<circle cx="176.1" cy="494.9" r="3.3" fill="#525252" stroke="#222" stroke-width="1.3"/>
<circle cx="190.8" cy="496.2" r="3.3" fill="#525252" stroke="#222" stroke-width="1.3"/>
<circle cx="183.5" cy="502.4" r="3.3" fill="#525252" stroke="#222" stroke-width="1.3"/>
<circle cx="174.9" cy="507.8" r="3.3" fill="#525252" stroke="#222" stroke-width="1.3"/>
<circle cx="197.5" cy="516" r="14.4" fill="#b3b3b3" stroke="#222" stroke-width="1.7"/>
<polygon points="190.7,514.1 191.9,527.4 189.9,529.6 191.4,536.4 189,536.6 189.6,543.5 180.1,538.8 184.4,533.6 182.7,533.6 186.6,528 185.3,527.6" fill="#000"/>
<polygon points="201.3,517.5 205.1,527 203.7,528 207,533.8 205.6,534.8 208.2,542.2 198.8,539.8 199.6,533 198.3,533 200.3,528 199.3,528" fill="#000"/>
<ellipse cx="181.5" cy="552" rx="5.1" ry="5.8" fill="#9a9a9a" stroke="#222" stroke-width="1.25"/>
<ellipse cx="205" cy="552.7" rx="5.1" ry="5.8" fill="#9a9a9a" stroke="#222" stroke-width="1.25"/>
<ellipse cx="182.3" cy="565" rx="5.1" ry="6" fill="#9a9a9a" stroke="#222" stroke-width="1.25"/>
<ellipse cx="193.8" cy="566.5" rx="5.1" ry="6" fill="#9a9a9a" stroke="#222" stroke-width="1.25"/>
<ellipse cx="206" cy="566.5" rx="5.1" ry="6" fill="#9a9a9a" stroke="#222" stroke-width="1.25"/>
<ellipse cx="217" cy="566.8" rx="5.1" ry="6" fill="#9a9a9a" stroke="#222" stroke-width="1.25"/>
<ellipse cx="193.5" cy="579.3" rx="5.1" ry="6" fill="#9a9a9a" stroke="#222" stroke-width="1.25"/>
<ellipse cx="217" cy="579.6" rx="5.1" ry="6" fill="#9a9a9a" stroke="#222" stroke-width="1.25"/>
<line x1="181.5" y1="550.4" x2="195.4" y2="550.4" stroke="#000" stroke-width="2.9"/>
<path d="M181.0,554.7 L206.0,555.6 L223.0,559.3 L241.5,549.6" stroke="#000" stroke-width="2.9" fill="none"/>
<path d="M243.8,553.5 L224.6,563.5 L216.0,579.6" stroke="#000" stroke-width="2.9" fill="none"/>
<line x1="227" y1="572" x2="220.8" y2="581" stroke="#000" stroke-width="2.9"/>
<path d="M219.0,545.8 L206.0,553.5 L193.0,577.3" stroke="#000" stroke-width="3.3" fill="none"/>
<line x1="221.5" y1="549.6" x2="208.5" y2="556.8" stroke="#000" stroke-width="2.9"/>
<line x1="204.6" y1="568" x2="198.5" y2="578.8" stroke="#000" stroke-width="2.9"/>
<circle cx="205.8" cy="624.1" r="31.8" fill="#8b8b8b" stroke="#222" stroke-width="1.6"/>
<ellipse cx="218.8" cy="622" rx="12.6" ry="9.8" fill="#939393" stroke="#222" stroke-width="1.7"/>
<text x="239" y="500.7" font-size="8.9" font-weight="bold" text-anchor="start" fill="#000" textLength="31.7" lengthAdjust="spacingAndGlyphs" stroke="#000" stroke-width="0.22">NK cell</text>
<text x="229.5" y="512" font-size="8.9" font-weight="bold" text-anchor="start" fill="#000" textLength="50" lengthAdjust="spacingAndGlyphs" stroke="#000" stroke-width="0.22">(SLAMF7<tspan dy="-2.7" font-size="85%">+</tspan><tspan dy="2.7">)</tspan></text>
<text x="253.7" y="548" font-size="11.3" font-weight="bold" text-anchor="start" fill="#000" stroke="#000" stroke-width="0.22">Killing</text>
<text x="244.6" y="620.9" font-size="8.9" font-weight="bold" text-anchor="start" fill="#000" textLength="46.2" lengthAdjust="spacingAndGlyphs" stroke="#000" stroke-width="0.22">Target cell</text>
<text x="242.5" y="631.2" font-size="8.9" font-weight="bold" text-anchor="start" fill="#000" textLength="49.2" lengthAdjust="spacingAndGlyphs" stroke="#000" stroke-width="0.22">(SLAMF7<tspan dy="-2.7" font-size="85%">+</tspan><tspan dy="2.7">)</tspan></text>
</svg>
</body></html>
